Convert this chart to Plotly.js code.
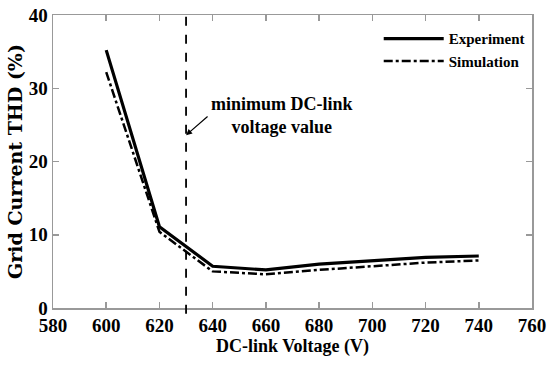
<!DOCTYPE html>
<html><head><meta charset="utf-8">
<script src="https://cdn.plot.ly/plotly-3.0.1.min.js"></script>
<style>html,body{margin:0;padding:0;background:#fff}#g{width:550px;height:365px}</style>
</head><body><div id="g"></div>
<script>
const voltage = [600, 620, 640, 660, 680, 700, 720, 740];
const experiment = [35.2, 11.1, 5.7, 5.2, 6.0, 6.4, 6.9, 7.1];
const simulation = [32.2, 10.4, 5.0, 4.6, 5.2, 5.7, 6.2, 6.5];
const minVoltage = 630;
const xTicks = [580, 600, 620, 640, 660, 680, 700, 720, 740, 760];
const yTicks = [0, 10, 20, 30, 40];

const F = 'Liberation Serif, Times New Roman, serif';
const bold = v => '<b>' + v + '</b>';
const traces = [
  {x: voltage, y: experiment, name: '<b>Experiment</b>', mode: 'lines',
   line: {color: '#000', width: 3.2}},
  {x: voltage, y: simulation, name: '<b>Simulation</b>', mode: 'lines',
   line: {color: '#000', width: 2.5, dash: 'dashdot'}}
];
const axisCommon = {showgrid: false, zeroline: false, showline: true, linecolor: '#999', linewidth: 1.5,
  mirror: 'ticks', ticks: 'inside', ticklen: 6, tickcolor: '#999', tickwidth: 1.5,
  tickfont: {family: F, size: 19, weight: 'bold', color: '#000'}};
const layout = {
  width: 550, height: 365,
  margin: {l: 53, r: 18, t: 15, b: 57},
  paper_bgcolor: '#fff', plot_bgcolor: '#fff',
  xaxis: Object.assign({}, axisCommon, {range: [580, 760], tickvals: xTicks, ticktext: xTicks.map(bold),
    title: {text: '<b>DC-link Voltage (V)</b>', standoff: 3, font: {family: F, size: 18, color: '#000'}}}),
  yaxis: Object.assign({}, axisCommon, {range: [0, 40], tickvals: yTicks, ticktext: yTicks.map(bold),
    title: {text: '<b>Grid Current THD (%)</b>', standoff: 1, font: {family: 'DejaVu Serif, serif', size: 19, color: '#000'}}}),
  showlegend: true,
  legend: {x: 0.68, y: 0.975, xanchor: 'left', yanchor: 'top', bgcolor: 'rgba(0,0,0,0)',
    font: {family: F, size: 15, color: '#000'}, tracegroupgap: 0, itemwidth: 60},
  shapes: [{type: 'line', xref: 'x', yref: 'paper', x0: minVoltage, x1: minVoltage, y0: -0.02, y1: 1,
    line: {color: '#000', width: 1.8, dash: 'dash'}}],
  annotations: [{x: minVoltage, y: 23.6, xref: 'x', yref: 'y', ax: 23, ay: -20, axref: 'pixel', ayref: 'pixel',
    showarrow: true, arrowhead: 2, arrowsize: 1, arrowwidth: 1.2, arrowcolor: '#000', text: '', standoff: 0},
   {x: 666, y: 26.3, xref: 'x', yref: 'y', showarrow: false, xanchor: 'center', yanchor: 'middle',
    text: '<b>minimum DC-link<br>voltage value</b>', align: 'center',
    font: {family: F, size: 18, color: '#000'}}]
};
Plotly.newPlot('g', traces, layout, {displayModeBar: false, staticPlot: true});
</script></body></html>
